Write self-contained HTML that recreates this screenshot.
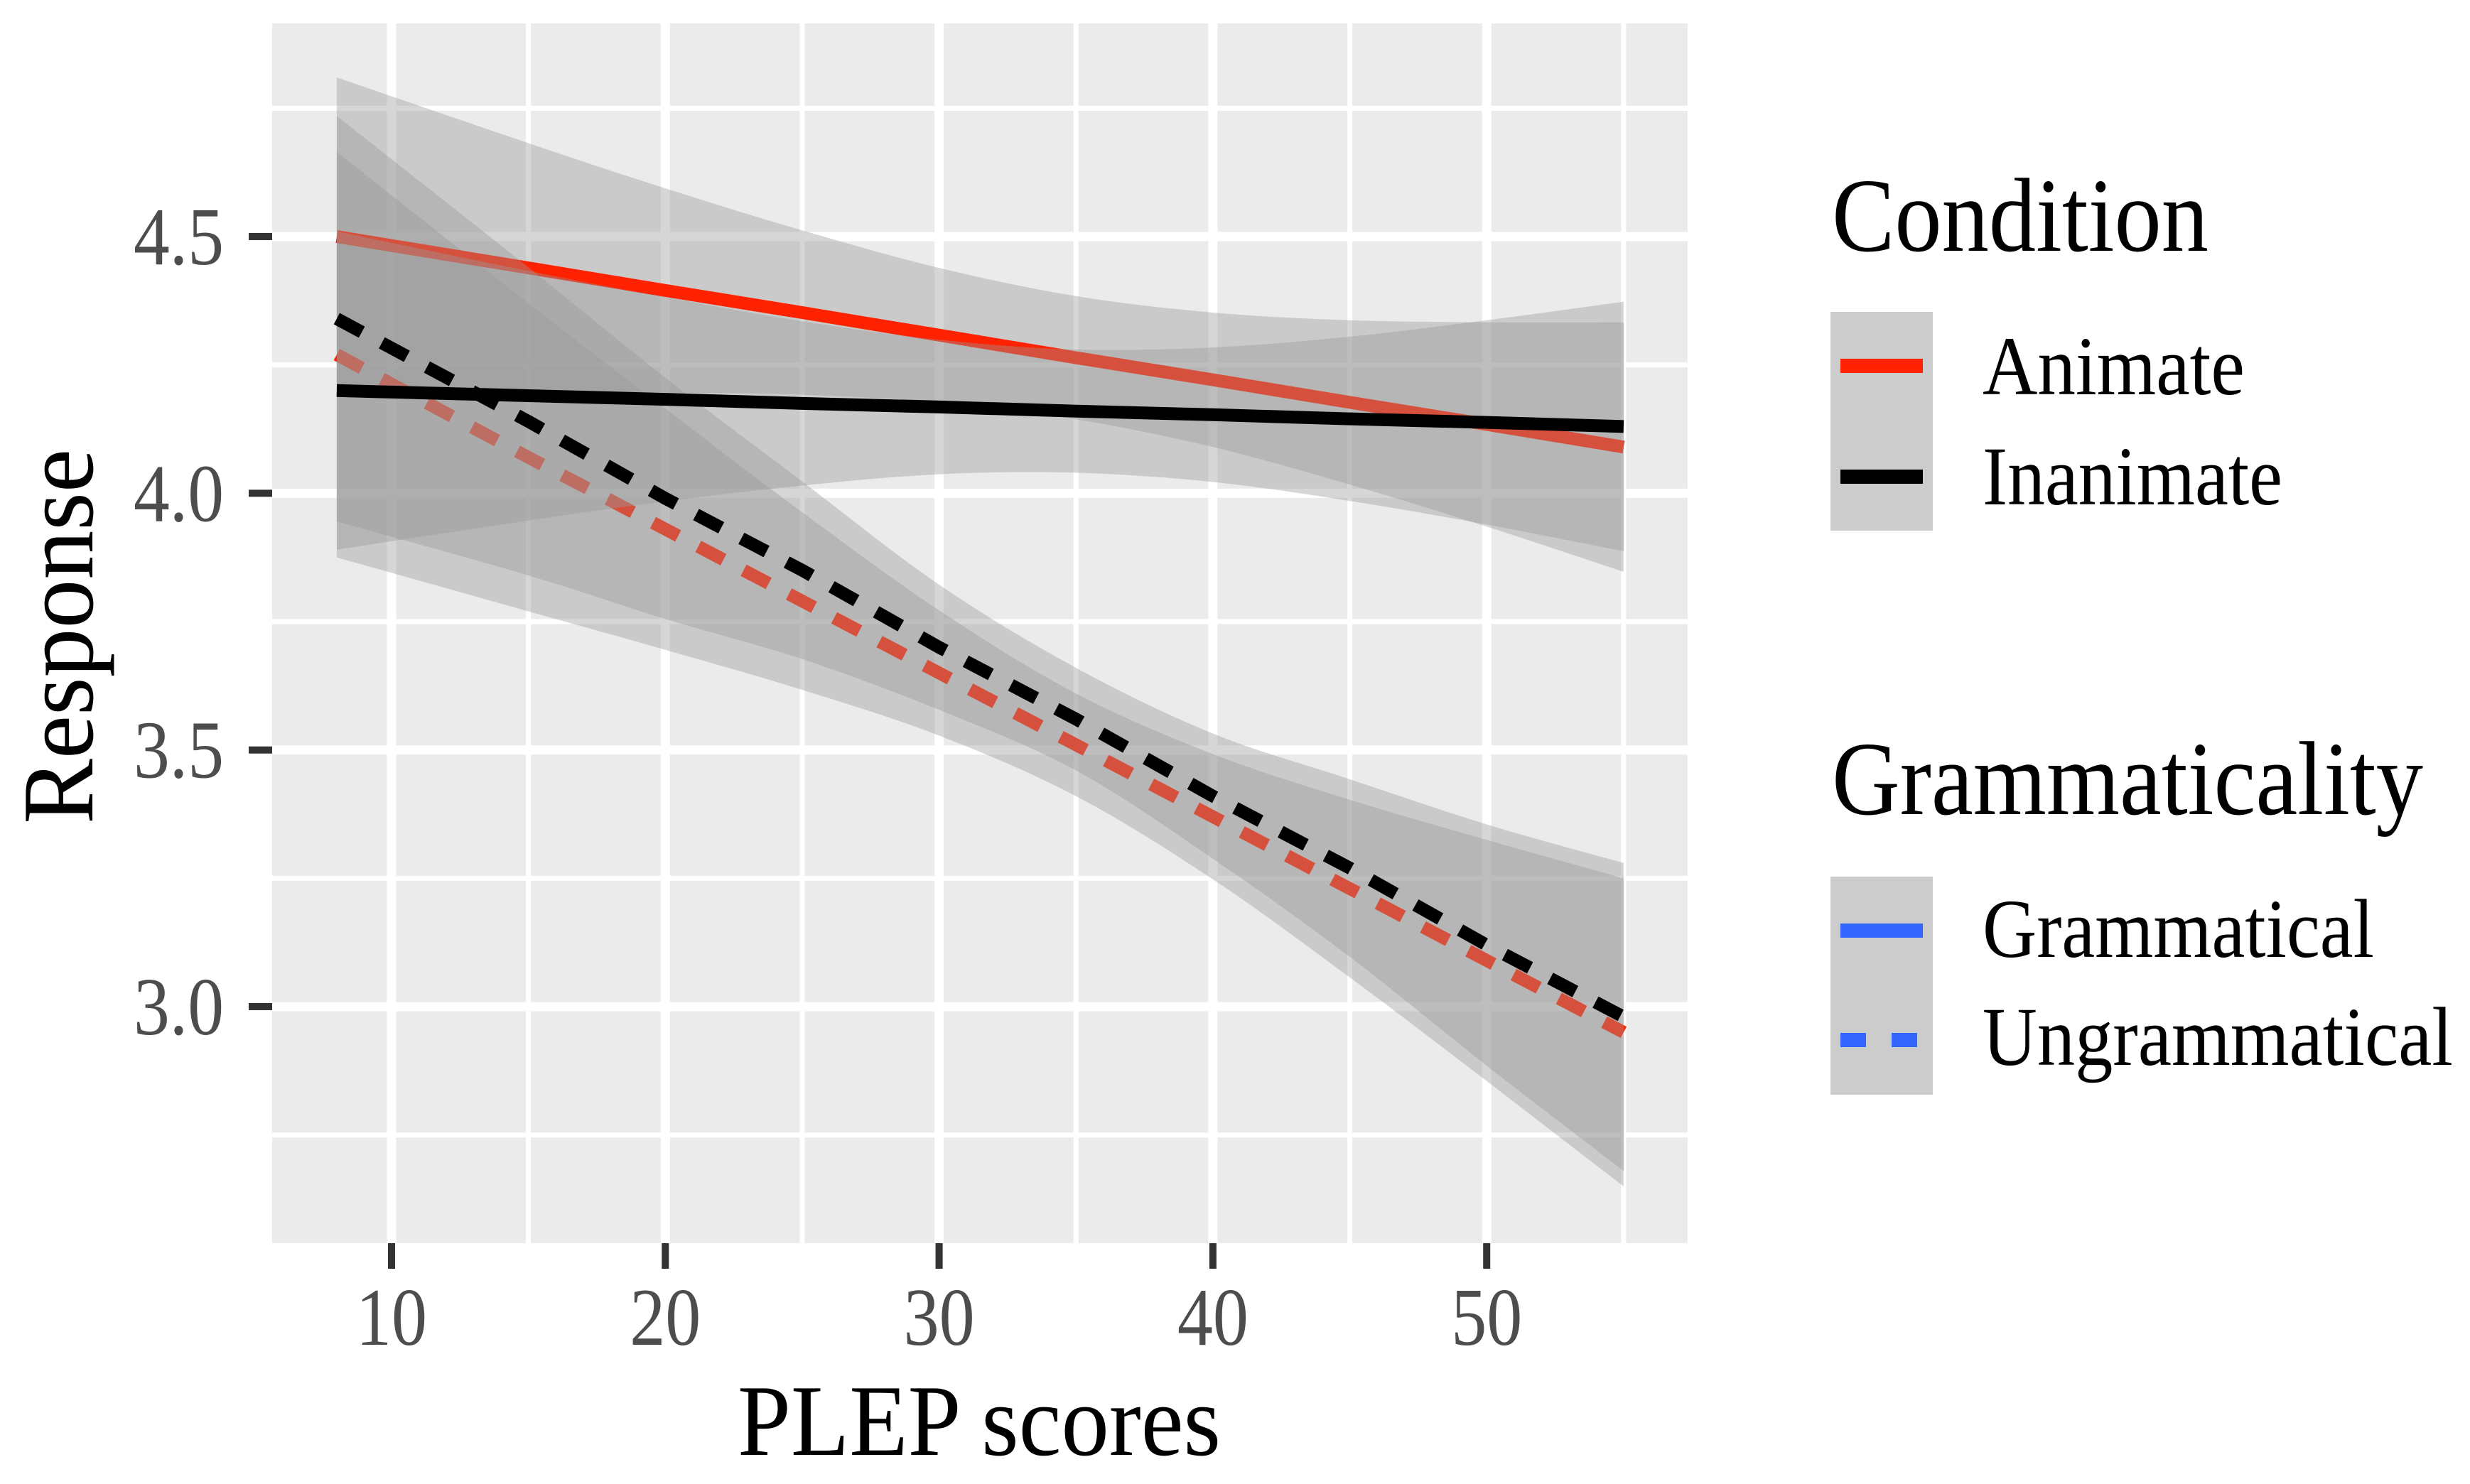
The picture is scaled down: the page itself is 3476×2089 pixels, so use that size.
<!DOCTYPE html>
<html><head><meta charset="utf-8"><style>
html,body{margin:0;padding:0;background:#fff;}
svg{display:block;}
text{font-family:"Liberation Serif",serif;}
</style></head><body>
<svg id="chart" width="3476" height="2089" viewBox="0 0 3476 2089" xmlns="http://www.w3.org/2000/svg">
<rect x="383" y="33" width="1992" height="1717" fill="#EBEBEB"/>
<g id="grid"></g>
<g id="marks"></g>
<g id="axes"></g>
<text x="1038" y="2048" font-size="143" textLength="680" lengthAdjust="spacingAndGlyphs" fill="#000">PLEP scores</text>
<text transform="translate(130,1160) rotate(-90)" font-size="143" textLength="528" lengthAdjust="spacingAndGlyphs" fill="#000">Response</text>
<g>
<text x="2578" y="353" font-size="148" textLength="530" lengthAdjust="spacingAndGlyphs" fill="#000">Condition</text>
<rect x="2576" y="439" width="144" height="308" fill="#CCCCCC"/>
<line x1="2590" y1="515" x2="2706" y2="515" stroke="#FF2200" stroke-width="20"/>
<line x1="2590" y1="671" x2="2706" y2="671" stroke="#000" stroke-width="20"/>
<text x="2790" y="555" font-size="118" textLength="369" lengthAdjust="spacingAndGlyphs" fill="#000">Animate</text>
<text x="2790" y="710" font-size="118" textLength="422" lengthAdjust="spacingAndGlyphs" fill="#000">Inanimate</text>
</g>
<g>
<text x="2578" y="1146" font-size="148" textLength="832" lengthAdjust="spacingAndGlyphs" fill="#000">Grammaticality</text>
<rect x="2576" y="1234" width="144" height="307" fill="#CCCCCC"/>
<line x1="2590" y1="1310" x2="2706" y2="1310" stroke="#3366FF" stroke-width="20"/>
<line x1="2590" y1="1464" x2="2706" y2="1464" stroke="#3366FF" stroke-width="20" stroke-dasharray="36 36"/>
<text x="2790" y="1347" font-size="118" textLength="551" lengthAdjust="spacingAndGlyphs" fill="#000">Grammatical</text>
<text x="2790" y="1499" font-size="118" textLength="662" lengthAdjust="spacingAndGlyphs" fill="#000">Ungrammatical</text>
</g>
</svg>
<script>
const xs = [8, 15, 20, 25, 30, 35, 40, 45, 50, 55];
const animateGram = [4.500, 4.439, 4.395, 4.352, 4.308, 4.264, 4.221, 4.177, 4.134, 4.090];
const inanimateGram = [4.200, 4.190, 4.183, 4.175, 4.168, 4.160, 4.153, 4.145, 4.138, 4.130];
const animateUngram = [4.27, 4.07, 3.93, 3.79, 3.65, 3.51, 3.37, 3.23, 3.09, 2.95];
const inanimateUngram = [4.34, 4.14, 3.99, 3.85, 3.70, 3.56, 3.41, 3.27, 3.12, 2.98];
const seGram = [0.31, 0.243, 0.199, 0.160, 0.131, 0.12, 0.131, 0.160, 0.199, 0.243];
const seUngram = [0.395, 0.30, 0.235, 0.173, 0.122, 0.10, 0.122, 0.173, 0.235, 0.30];
const xMajor = [10, 20, 30, 40, 50];
const xMinor = [15, 25, 35, 45, 55];
const yMajor = [3.0, 3.5, 4.0, 4.5];
const yMinor = [2.75, 3.25, 3.75, 4.25, 4.75];
const yTickLabels = ["3.0", "3.5", "4.0", "4.5"];
const xTickLabels = ["10", "20", "30", "40", "50"];

const NS = "http://www.w3.org/2000/svg";
const PX0 = 383, PX1 = 2375, PY0 = 33, PY1 = 1750;
function sx(v){ return 551 + (v - 10) * 38.53; }
function sy(v){ return 333 + (4.5 - v) * 722.7; }
function mk(tag, attrs, parent){
  const e = document.createElementNS(NS, tag);
  for (const k in attrs) e.setAttribute(k, attrs[k]);
  parent.appendChild(e);
  return e;
}
const grid = document.getElementById('grid');
yMinor.forEach(v => {
  const l = mk('line', {x1: PX0, x2: PX1, y1: sy(v), y2: sy(v), stroke: '#fff', 'stroke-width': 7}, grid);
  
  
});
xMinor.forEach(v => {
  const l = mk('line', {x1: sx(v), x2: sx(v), y1: PY0, y2: PY1, stroke: '#fff', 'stroke-width': 7}, grid);
  
  
});
yMajor.forEach(v => {
  const l = mk('line', {x1: PX0, x2: PX1, y1: sy(v), y2: sy(v), stroke: '#fff', 'stroke-width': 13}, grid);
  
  
});
xMajor.forEach(v => {
  const l = mk('line', {x1: sx(v), x2: sx(v), y1: PY0, y2: PY1, stroke: '#fff', 'stroke-width': 13}, grid);
  
  
});

const marks = document.getElementById('marks');
function curve(pts){
  let d = '';
  for (let i = 0; i < pts.length - 1; i++){
    const p0 = pts[Math.max(i - 1, 0)], p1 = pts[i], p2 = pts[i + 1], p3 = pts[Math.min(i + 2, pts.length - 1)];
    const c1 = [p1[0] + (p2[0] - p0[0]) / 6, p1[1] + (p2[1] - p0[1]) / 6];
    const c2 = [p2[0] - (p3[0] - p1[0]) / 6, p2[1] - (p3[1] - p1[1]) / 6];
    d += ' C' + c1[0].toFixed(1) + ',' + c1[1].toFixed(1) + ' ' + c2[0].toFixed(1) + ',' + c2[1].toFixed(1) + ' ' + p2[0].toFixed(1) + ',' + p2[1].toFixed(1);
  }
  return d;
}
function ribbon(fit, se, name){
  const up = xs.map((x, i) => [sx(x), sy(fit[i] + se[i])]);
  const lo = xs.map((x, i) => [sx(x), sy(fit[i] - se[i])]).reverse();
  const d = 'M' + up[0][0].toFixed(1) + ',' + up[0][1].toFixed(1) + curve(up) +
            ' L' + lo[0][0].toFixed(1) + ',' + lo[0][1].toFixed(1) + curve(lo) + ' Z';
  const p = mk('path', {d: d, fill: '#999999', 'fill-opacity': 0.4}, marks);
  
  
}
function line(fit, color, dashed, name){
  const pts = xs.map((x, i) => sx(x).toFixed(1) + ',' + sy(fit[i]).toFixed(1)).join(' ');
  const a = {points: pts, fill: 'none', stroke: color, 'stroke-width': 18};
  if (dashed) a['stroke-dasharray'] = '40 32';
  const p = mk('polyline', a, marks);
  
  
}
ribbon(animateGram, seGram, 'ribbon-animate-grammatical');
ribbon(animateUngram, seUngram, 'ribbon-animate-ungrammatical');
line(animateGram, '#FF2200', false, 'line-animate-grammatical');
line(animateUngram, '#FF2200', true, 'line-animate-ungrammatical');
ribbon(inanimateGram, seGram, 'ribbon-inanimate-grammatical');
ribbon(inanimateUngram, seUngram, 'ribbon-inanimate-ungrammatical');
line(inanimateGram, '#000000', false, 'line-inanimate-grammatical');
line(inanimateUngram, '#000000', true, 'line-inanimate-ungrammatical');

const axes = document.getElementById('axes');
yMajor.forEach((v, i) => {
  const t = mk('line', {x1: 350, x2: PX0, y1: sy(v), y2: sy(v), stroke: '#333', 'stroke-width': 10}, axes);
  
  
  const tx = mk('text', {x: 188, y: sy(v) + 39, 'font-size': 116, textLength: 127, lengthAdjust: 'spacingAndGlyphs', fill: '#4D4D4D'}, axes);
  tx.textContent = yTickLabels[i];
  
  
});
xMajor.forEach((v, i) => {
  const t = mk('line', {x1: sx(v), x2: sx(v), y1: PY1, y2: 1786, stroke: '#333', 'stroke-width': 10}, axes);
  
  
  const tx = mk('text', {x: sx(v) - 50, y: 1893, 'font-size': 116, textLength: 100, lengthAdjust: 'spacingAndGlyphs', fill: '#4D4D4D'}, axes);
  tx.textContent = xTickLabels[i];
  
  
});
</script>
</body></html>
